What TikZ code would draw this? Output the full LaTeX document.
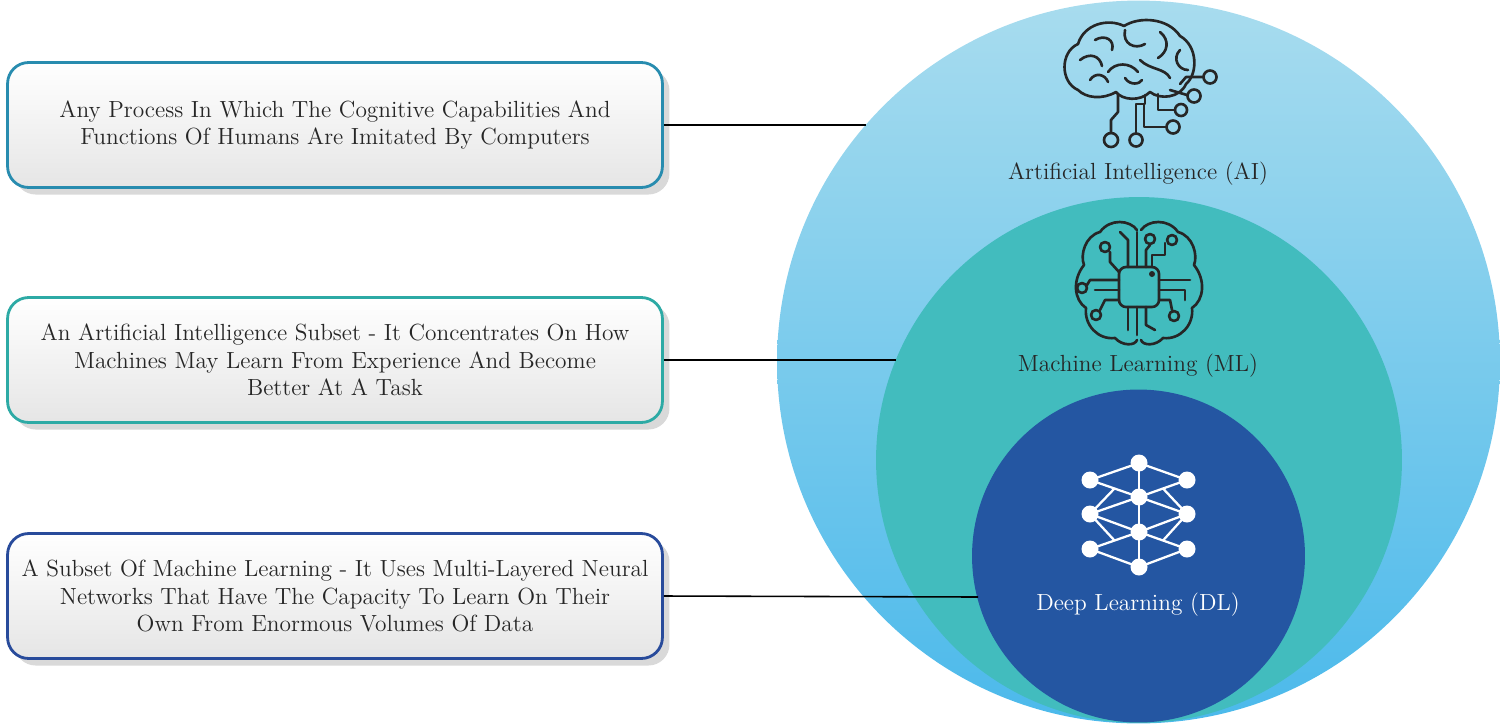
\documentclass[tikz,border=0pt]{standalone}
\usetikzlibrary{shadows,calc}
\begin{document}
\begin{tikzpicture}[x=0.02cm,y=-0.02cm,
  box/.style={rounded corners=12pt, line width=1.6pt, top color=white, bottom color=black!10,
     drop shadow={shadow xshift=4pt, shadow yshift=-4pt, opacity=0.3}},
  txt/.style={align=center, font=\fontsize{13.3}{15.8}\selectfont, text=black!85},
  conn/.style={line width=0.9pt, black},
  ico/.style={line width=1.5pt, draw=black!85, line cap=round, line join=round},
  nn/.style={line width=1.3pt, white}]
\definecolor{aitop}{RGB}{168,220,238}
\definecolor{aibot}{RGB}{75,185,235}
\definecolor{mlc}{RGB}{66,188,190}
\definecolor{dlc}{RGB}{36,86,162}
\definecolor{b1}{RGB}{40,140,175}
\definecolor{b2}{RGB}{45,170,165}
\definecolor{b3}{RGB}{40,75,155}
\useasboundingbox (0,0) rectangle (1500,724);
\begin{scope}
\clip (0,0) rectangle (1500,724);
% circles
\path[top color=aitop, bottom color=aibot] (1138.5,362) circle (7.23cm);
\fill[mlc] (1139,460) circle (5.26cm);
\fill[dlc] (1138.5,556) circle (3.33cm);
\end{scope}
% boxes
\node[box, draw=b1, minimum width=13.1cm, minimum height=2.5cm, txt] (t1) at (335,125)
 {Any Process In Which The Cognitive Capabilities And\\Functions Of Humans Are Imitated By Computers};
\node[box, draw=b2, minimum width=13.1cm, minimum height=2.5cm, txt] (t2) at (335,360)
 {An Artificial Intelligence Subset - It Concentrates On How\\Machines May Learn From Experience And Become\\Better At A Task};
\node[box, draw=b3, minimum width=13.1cm, minimum height=2.5cm, txt] (t3) at (335,596)
 {A Subset Of Machine Learning - It Uses Multi-Layered Neural\\Networks That Have The Capacity To Learn On Their\\Own From Enormous Volumes Of Data};
\coordinate (e1) at (866,125);
\coordinate (e2) at (896,360);
\coordinate (e3) at (978,597);
\draw[conn] (t1.east) -- (e1);
\draw[conn] (t2.east) -- (e2);
\draw[conn] (t3.east) -- (e3);
% labels
\node[txt] (l1) at (1138,174) {Artificial Intelligence (AI)};
\node[txt] (l2) at (1138,366) {Machine Learning (ML)};
\node[txt, text=white] (l3) at (1138,605) {Deep Learning (DL)};
% AI brain icon
\draw[ico] (1078,90) .. controls (1060,82) and (1060,52) .. (1078,44)
  .. controls (1084,24) and (1108,18) .. (1124,26)
  .. controls (1140,16) and (1168,18) .. (1180,36)
  .. controls (1198,46) and (1198,74) .. (1186,84)
  .. controls (1180,98) and (1160,100) .. (1150,92)
  .. controls (1140,102) and (1122,100) .. (1116,92)
  .. controls (1102,100) and (1086,98) .. (1078,90) -- cycle;
\draw[ico] (1080,60) .. controls (1090,52) and (1100,56) .. (1102,66);
\draw[ico] (1095,40) .. controls (1105,34) and (1115,40) .. (1112,50);
\draw[ico] (1125,30) .. controls (1122,44) and (1135,50) .. (1145,44);
\draw[ico] (1160,32) .. controls (1170,40) and (1168,52) .. (1158,58);
\draw[ico] (1180,50) .. controls (1172,58) and (1178,70) .. (1188,70);
\draw[ico] (1108,72) .. controls (1115,62) and (1130,62) .. (1138,72);
\draw[ico] (1140,60) .. controls (1150,70) and (1165,68) .. (1170,78);
\draw[ico] (1090,80) .. controls (1095,72) and (1105,74) .. (1108,82);
\draw[ico] (1125,78) .. controls (1130,86) and (1140,84) .. (1142,80);
\draw[ico] (1118,94) -- (1118,112) -- (1111,120) -- (1111,133);
\draw[ico] (1145,95) -- (1145,104) -- (1136,104) -- (1136,133);
\draw[ico] (1144,104) -- (1144,127) -- (1166,127);
\draw[ico] (1158,94) -- (1158,110) -- (1174,110);
\draw[ico] (1170,90) -- (1187,95);
\draw[ico] (1180,84) -- (1186,77) -- (1203,77);
\draw[ico] (1111,140) circle (7); \draw[ico] (1136,140) circle (6.5);
\draw[ico] (1210,77) circle (6.5); \draw[ico] (1194,96) circle (6.5);
\draw[ico] (1181,110) circle (6); \draw[ico] (1173,127) circle (6.5);
% ML circuit brain icon
\draw[ico] (1137,230) .. controls (1130,220) and (1110,218) .. (1100,232)
  .. controls (1085,236) and (1080,255) .. (1084,265)
  .. controls (1072,280) and (1074,300) .. (1086,308)
  .. controls (1084,325) and (1098,340) .. (1115,338)
  .. controls (1122,346) and (1135,346) .. (1137,340);
\draw[ico] (1141,230) .. controls (1148,220) and (1168,218) .. (1178,232)
  .. controls (1193,236) and (1198,255) .. (1194,265)
  .. controls (1206,280) and (1204,300) .. (1192,308)
  .. controls (1194,325) and (1180,340) .. (1163,338)
  .. controls (1156,346) and (1143,346) .. (1141,340);
\draw[ico, rounded corners=4pt] (1119,267) rectangle (1159,307);
\fill[black!85] (1152,274) circle (3);
\draw[ico] (1128,267) -- (1128,240) -- (1120,232);
\draw[ico] (1137,267) -- (1137,232);
\draw[ico] (1146,267) -- (1146,250) -- (1150,245);
\draw[ico] (1152,267) -- (1152,255) -- (1165,255) -- (1165,243);
\draw[ico] (1150,239) circle (5); \draw[ico] (1172,240) circle (5);
\draw[ico] (1105,247) circle (5); \draw[ico] (1110,252) -- (1110,262) -- (1119,272);
\draw[ico] (1119,280) -- (1090,280) -- (1087,285);
\draw[ico] (1082,288) circle (5);
\draw[ico] (1119,290) -- (1095,290);
\draw[ico] (1119,300) -- (1105,300) -- (1100,310);
\draw[ico] (1096,315) circle (5);
\draw[ico] (1159,280) -- (1190,280);
\draw[ico] (1159,290) -- (1185,290) -- (1185,300);
\draw[ico] (1159,300) -- (1170,300) -- (1172,310);
\draw[ico] (1174,316) circle (5);
\draw[ico] (1128,307) -- (1128,330);
\draw[ico] (1137,307) -- (1137,335);
\draw[ico] (1146,307) -- (1146,325) -- (1155,330);
% DL neural network icon
\coordinate (T) at (1139,463);
\coordinate (C1) at (1139,497);
\coordinate (C2) at (1139,532);
\coordinate (B) at (1139,567);
\coordinate (L1) at (1090,480); \coordinate (L2) at (1090,514); \coordinate (L3) at (1090,549);
\coordinate (R1) at (1187,480); \coordinate (R2) at (1187,514); \coordinate (R3) at (1187,549);
\draw[nn] (T) -- (B);
\draw[nn] (T) -- (L1) -- (C1) -- (R1) -- (T);
\draw[nn] (L2) -- (C1) -- (R2) -- (C2) -- (L2);
\draw[nn] (L3) -- (C2) -- (R3) -- (B) -- (L3);
\draw[nn] ($(L1)!0.5!(C1)$) -- (L2) -- ($(L3)!0.5!(C2)$);
\draw[nn] ($(R1)!0.5!(C1)$) -- (R2) -- ($(R3)!0.5!(C2)$);
\foreach \p in {T,C1,C2,B,L1,L2,L3,R1,R2,R3} \fill[white] (\p) circle (8.5);
\end{tikzpicture}
\end{document}
